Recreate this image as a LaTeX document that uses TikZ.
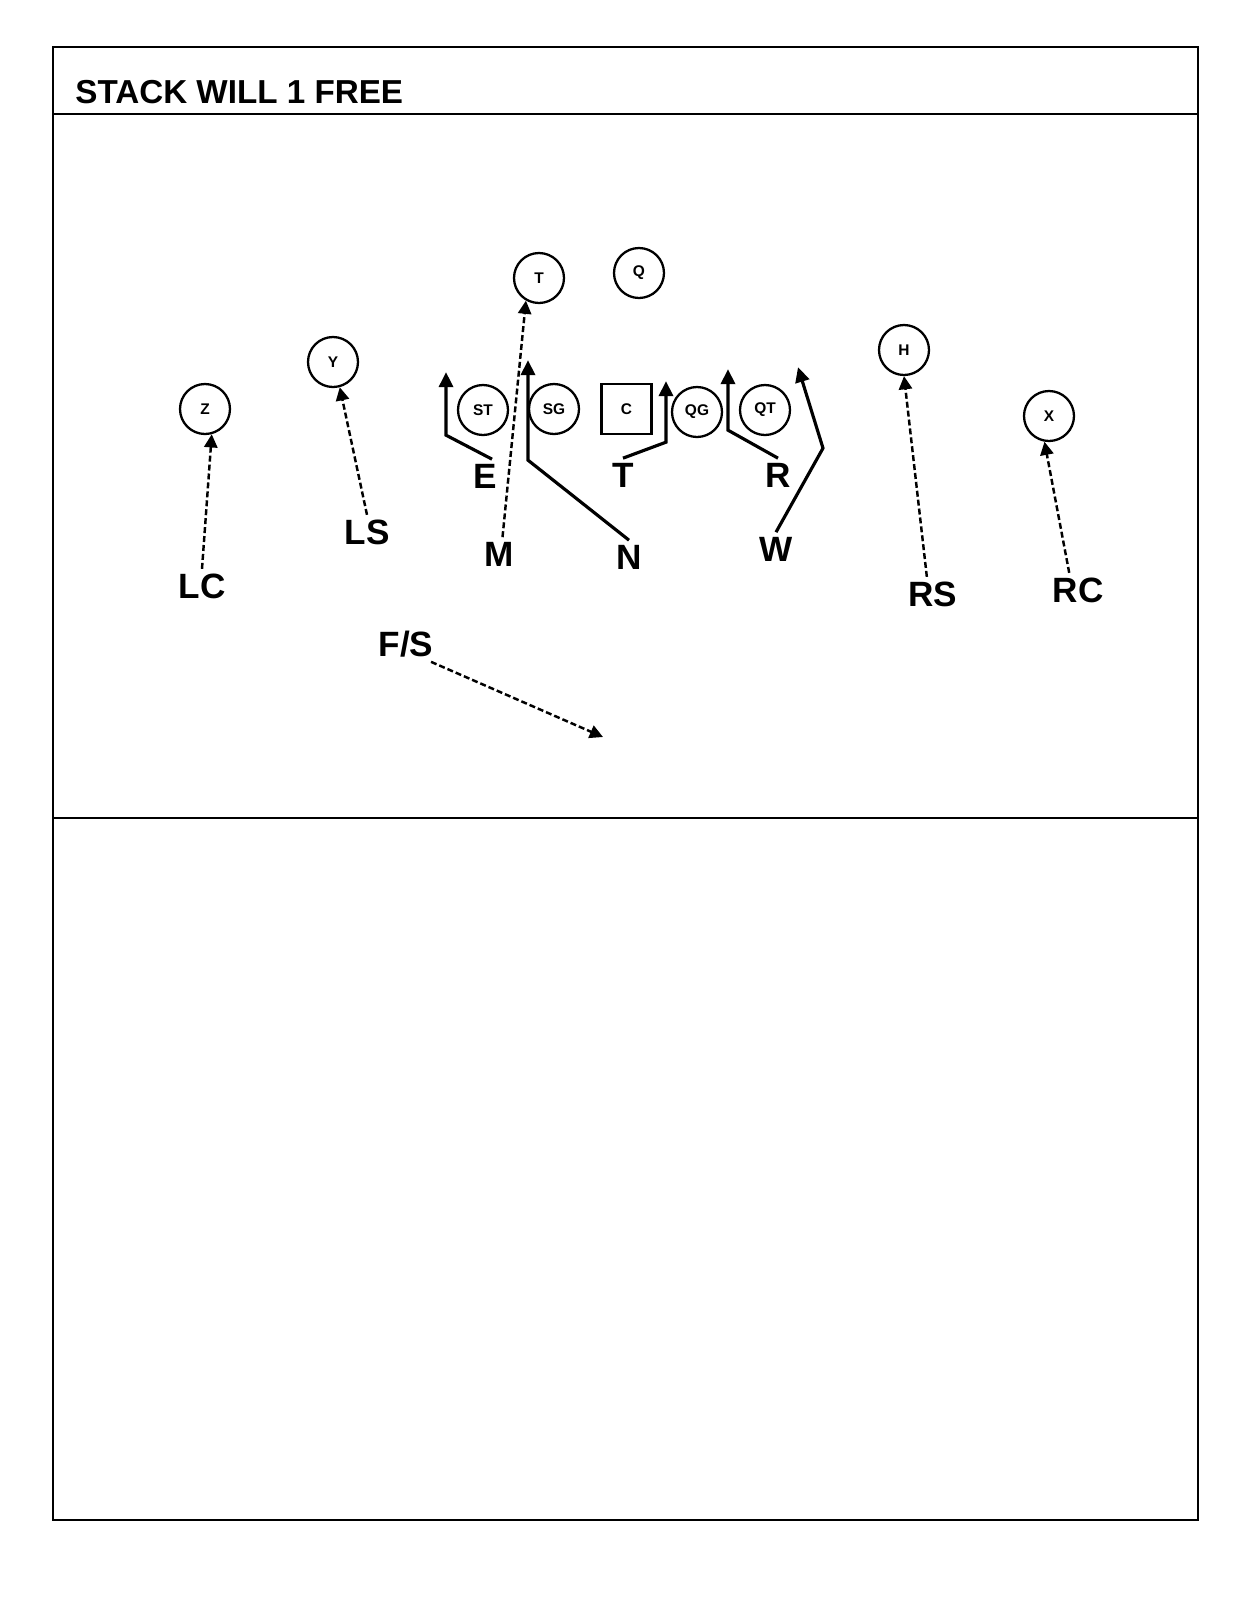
\documentclass[tikz,border=0pt]{standalone}
\usepackage{fontspec}
\setmainfont{Liberation Sans}
\usepackage{tikz}
\usetikzlibrary{arrows.meta}
\tikzstyle{player} = [circle, draw, line width=1.3pt, minimum size=1cm, inner sep=0pt, font=\bfseries\fontsize{8.8}{9}\selectfont]
\tikzstyle{snapper} = [rectangle, draw, line width=1.3pt, minimum size=1cm, inner sep=0pt, font=\bfseries\fontsize{8.8}{9}\selectfont]
\tikzstyle{defender} = [inner sep=2.5pt, font=\bfseries\fontsize{20}{21}\selectfont]
\tikzstyle{route} = [line width=1.8pt, -{Triangle[length=8.5pt,width=8pt]}]
\tikzstyle{cover} = [line width=1.4pt, dash pattern=on 3.4pt off 1.7pt, -{Triangle[length=7.5pt,width=7.5pt]}]

\begin{document}
\begin{tikzpicture}[x=0.02cm, y=-0.02cm]
    \useasboundingbox (0,0) rectangle (1236,1600);
    \draw[line width=1.5pt] (53,47) rectangle (1198,1520);
    \draw[line width=1.5pt] (53,114) -- (1198,114);
    \draw[line width=1.5pt] (53,818) -- (1198,818);
    \node[anchor=base west, inner sep=0pt, font=\bfseries\fontsize{18.9}{19}\selectfont] (title) at (75,103) {STACK WILL 1 FREE};
    % offense
    \node[player] (Z) at (205,409) {Z};
    \node[player] (Y) at (333,362) {Y};
    \node[player] (T) at (539,278) {T};
    \node[player] (Q) at (639,273) {Q};
    \node[player] (ST) at (483,410) {ST};
    \node[player] (SG) at (554,409) {SG};
    \node[snapper] (C) at (626.5,409) {C};
    \node[player] (QG) at (697,412) {QG};
    \node[player] (QT) at (765,410) {QT};
    \node[player] (H) at (904,350) {H};
    \node[player] (X) at (1049,416) {X};
    % defense
    \node[defender] (LC) at (202,586) {LC};
    \node[defender] (LS) at (367,532) {LS};
    \node[defender] (E) at (485,476) {E};
    \node[defender] (M) at (499,554) {M};
    \node[defender] (Tk) at (623,475) {T};
    \node[defender] (N) at (629,557) {N};
    \node[defender] (R) at (778,475) {R};
    \node[defender] (W) at (776,549) {W};
    \node[defender] (RS) at (933,594) {RS};
    \node[defender] (RC) at (1078,590) {RC};
    \node[defender] (FS) at (406,644) {F/S};
    \coordinate (drop) at (603,737);
    % rush
    \draw[route] ([xshift=4pt]E.north) -- ++(-46,-24) -- ++(0,-63);
    \draw[route] (N.north) -- ++(-101,-80) -- ++(0,-100);
    \draw[route] (Tk.north) -- ++(43,-16) -- ++(0,-61);
    \draw[route] (R.north) -- ++(-50,-28) -- ++(0,-61);
    \draw[route] (W.north) -- ++(47,-84) -- ++(-25,-81);
    % coverage
    \draw[cover] (LC.north) -- (Z.285);
    \draw[cover] (LS.north) -- (Y.285);
    \draw[cover] ([xshift=2pt]M.north) -- (T.240);
    \draw[cover] ([xshift=-3.5pt]RS.north) -- (H.south);
    \draw[cover] ([xshift=-5pt]RC.north) -- (X.260);
    \draw[cover] ([xshift=-4pt]FS.south east) -- (drop);
\end{tikzpicture}
\end{document}
